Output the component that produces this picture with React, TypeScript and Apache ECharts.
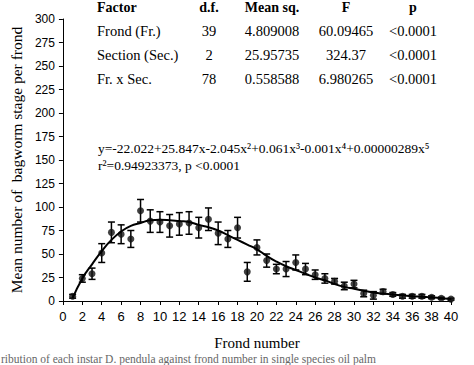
import React, { useEffect, useRef } from "react";
import * as echarts from "echarts";

const fronds = [1, 2, 3, 4, 5, 6, 7, 8, 9, 10, 11, 12, 13, 14, 15, 16, 17, 18, 19, 20, 21, 22, 23, 24, 25, 26, 27, 28, 29, 30, 31, 32, 33, 34, 35, 36, 37, 38, 39, 40];
const means = [5, 24, 29, 51, 73, 71, 66, 96, 85, 84, 80, 82, 83, 78, 87, 72, 66, 78, 31, 57, 43, 34, 34, 41, 34, 28, 24, 21, 16, 18, 8, 6, 10, 7, 5, 5, 5, 4, 3, 2];
const errors = [2, 4, 6, 10, 11, 10, 9, 12, 12, 11, 12, 12, 12, 11, 12, 12, 9, 11, 10, 8, 7, 5, 8, 8, 6, 5, 5, 3, 4, 4, 3.5, 4, 2.5, 2, 2, 2, 2, 1.5, 1, 1];
const fitted = [3, 24, 39, 53, 65, 74, 80, 83, 86, 86.5, 86, 85, 84, 81, 78.5, 75, 70, 65, 60, 55, 48, 42, 37, 33, 29, 25, 22, 18, 15, 13, 11, 9, 8, 7, 6, 5, 4.5, 4, 3, 2];

const tableHeader = ["Factor", "d.f.", "Mean sq.", "F", "p"];
const tableRows = [
  ["Frond (Fr.)", "39", "4.809008", "60.09465", "<0.0001"],
  ["Section (Sec.)", "2", "25.95735", "324.37", "<0.0001"],
  ["Fr. x Sec.", "78", "0.558588", "6.980265", "<0.0001"],
];
const equation = "y=-22.022+25.847x-2.045x²+0.061x³-0.001x⁴+0.00000289x⁵";
const rSquared = "r²=0.94923373, p <0.0001";
const caption = "ribution of each instar D. pendula against frond number in single species oil palm";

const SERIF = "'Liberation Serif', 'Times New Roman', serif";
const NARROW = "'Liberation Sans Narrow', 'Arial Narrow', 'Liberation Sans', sans-serif";

export default function App() {
  const ref = useRef<HTMLDivElement>(null);
  useEffect(() => {
    document.body.style.margin = "0";
    if (!ref.current) return;
    const chart = echarts.init(ref.current, null, { renderer: "svg" });

    const colX = [97, 209, 272, 346, 413];
    const colAlign = ["left", "center", "center", "center", "center"];
    const rowY = [7, 31, 55, 79];
    const graphics: any[] = [];
    tableHeader.forEach((t, i) => {
      graphics.push({
        type: "text",
        x: colX[i],
        y: rowY[0],
        style: { text: t, font: `bold 14px ${SERIF}`, fill: "#000", textAlign: colAlign[i], textVerticalAlign: "middle" },
      });
    });
    tableRows.forEach((row, r) => {
      row.forEach((t, i) => {
        graphics.push({
          type: "text",
          x: colX[i],
          y: rowY[r + 1],
          style: { text: t, font: `14.5px ${SERIF}`, fill: "#000", textAlign: colAlign[i], textVerticalAlign: "middle" },
        });
      });
    });
    graphics.push({
      type: "text",
      x: 98,
      y: 148,
      style: { text: equation, font: `13.5px ${SERIF}`, fill: "#000", textAlign: "left", textVerticalAlign: "middle" },
    });
    graphics.push({
      type: "text",
      x: 98,
      y: 165,
      style: { text: rSquared, font: `13.5px ${SERIF}`, fill: "#000", textAlign: "left", textVerticalAlign: "middle" },
    });
    graphics.push({
      type: "text",
      x: 1,
      y: 353,
      style: { text: caption, font: `11.5px ${SERIF}`, fill: "#666", textAlign: "left", textVerticalAlign: "top" },
    });

    const errData = fronds.map((f, i) => [f, means[i] - errors[i], means[i] + errors[i]]);

    chart.setOption({
      animation: false,
      backgroundColor: "#fff",
      grid: { left: 57, right: 23, top: 19, bottom: 64, containLabel: false },
      xAxis: {
        type: "value",
        min: 0,
        max: 40,
        interval: 2,
        name: "Frond number",
        nameLocation: "middle",
        nameGap: 34,
        nameTextStyle: { fontFamily: SERIF, fontSize: 15, color: "#000" },
        axisLine: { show: true, onZero: false, lineStyle: { color: "#000", width: 1 } },
        axisTick: { show: true, length: 4, lineStyle: { color: "#000" } },
        axisLabel: { color: "#000", fontFamily: NARROW, fontSize: 13, margin: 9 },
        splitLine: { show: false },
      },
      yAxis: {
        type: "value",
        min: 0,
        max: 300,
        interval: 25,
        name: "Mean number of  bagworm stage per frond",
        nameLocation: "middle",
        nameGap: 27,
        nameTextStyle: { fontFamily: SERIF, fontSize: 15.5, color: "#000" },
        axisLine: { show: true, lineStyle: { color: "#000", width: 1 } },
        axisTick: { show: true, length: 4, lineStyle: { color: "#000" } },
        axisLabel: { color: "#000", fontFamily: NARROW, fontSize: 12, margin: 8 },
        splitLine: { show: false },
      },
      graphic: graphics,
      series: [
        {
          type: "custom",
          data: errData,
          renderItem: (params: any, api: any) => {
            const x = api.value(0);
            const lo = api.coord([x, api.value(1)]);
            const hi = api.coord([x, api.value(2)]);
            const w = 3.5;
            const st = { stroke: "#000", lineWidth: 1.5 };
            return {
              type: "group",
              children: [
                { type: "line", shape: { x1: lo[0], y1: lo[1], x2: hi[0], y2: hi[1] }, style: st },
                { type: "line", shape: { x1: lo[0] - w, y1: lo[1], x2: lo[0] + w, y2: lo[1] }, style: st },
                { type: "line", shape: { x1: hi[0] - w, y1: hi[1], x2: hi[0] + w, y2: hi[1] }, style: st },
              ],
            };
          },
          z: 2,
        },
        {
          type: "scatter",
          data: fronds.map((f, i) => [f, means[i]]),
          symbol: "circle",
          symbolSize: 7,
          itemStyle: { color: "#111" },
          z: 3,
        },
        {
          type: "line",
          data: fronds.map((f, i) => [f, fitted[i]]),
          smooth: true,
          showSymbol: false,
          lineStyle: { color: "#000", width: 2 },
          z: 4,
        },
      ],
    });
    return () => chart.dispose();
  }, []);
  return <div ref={ref} style={{ width: 474, height: 365 }} />;
}
